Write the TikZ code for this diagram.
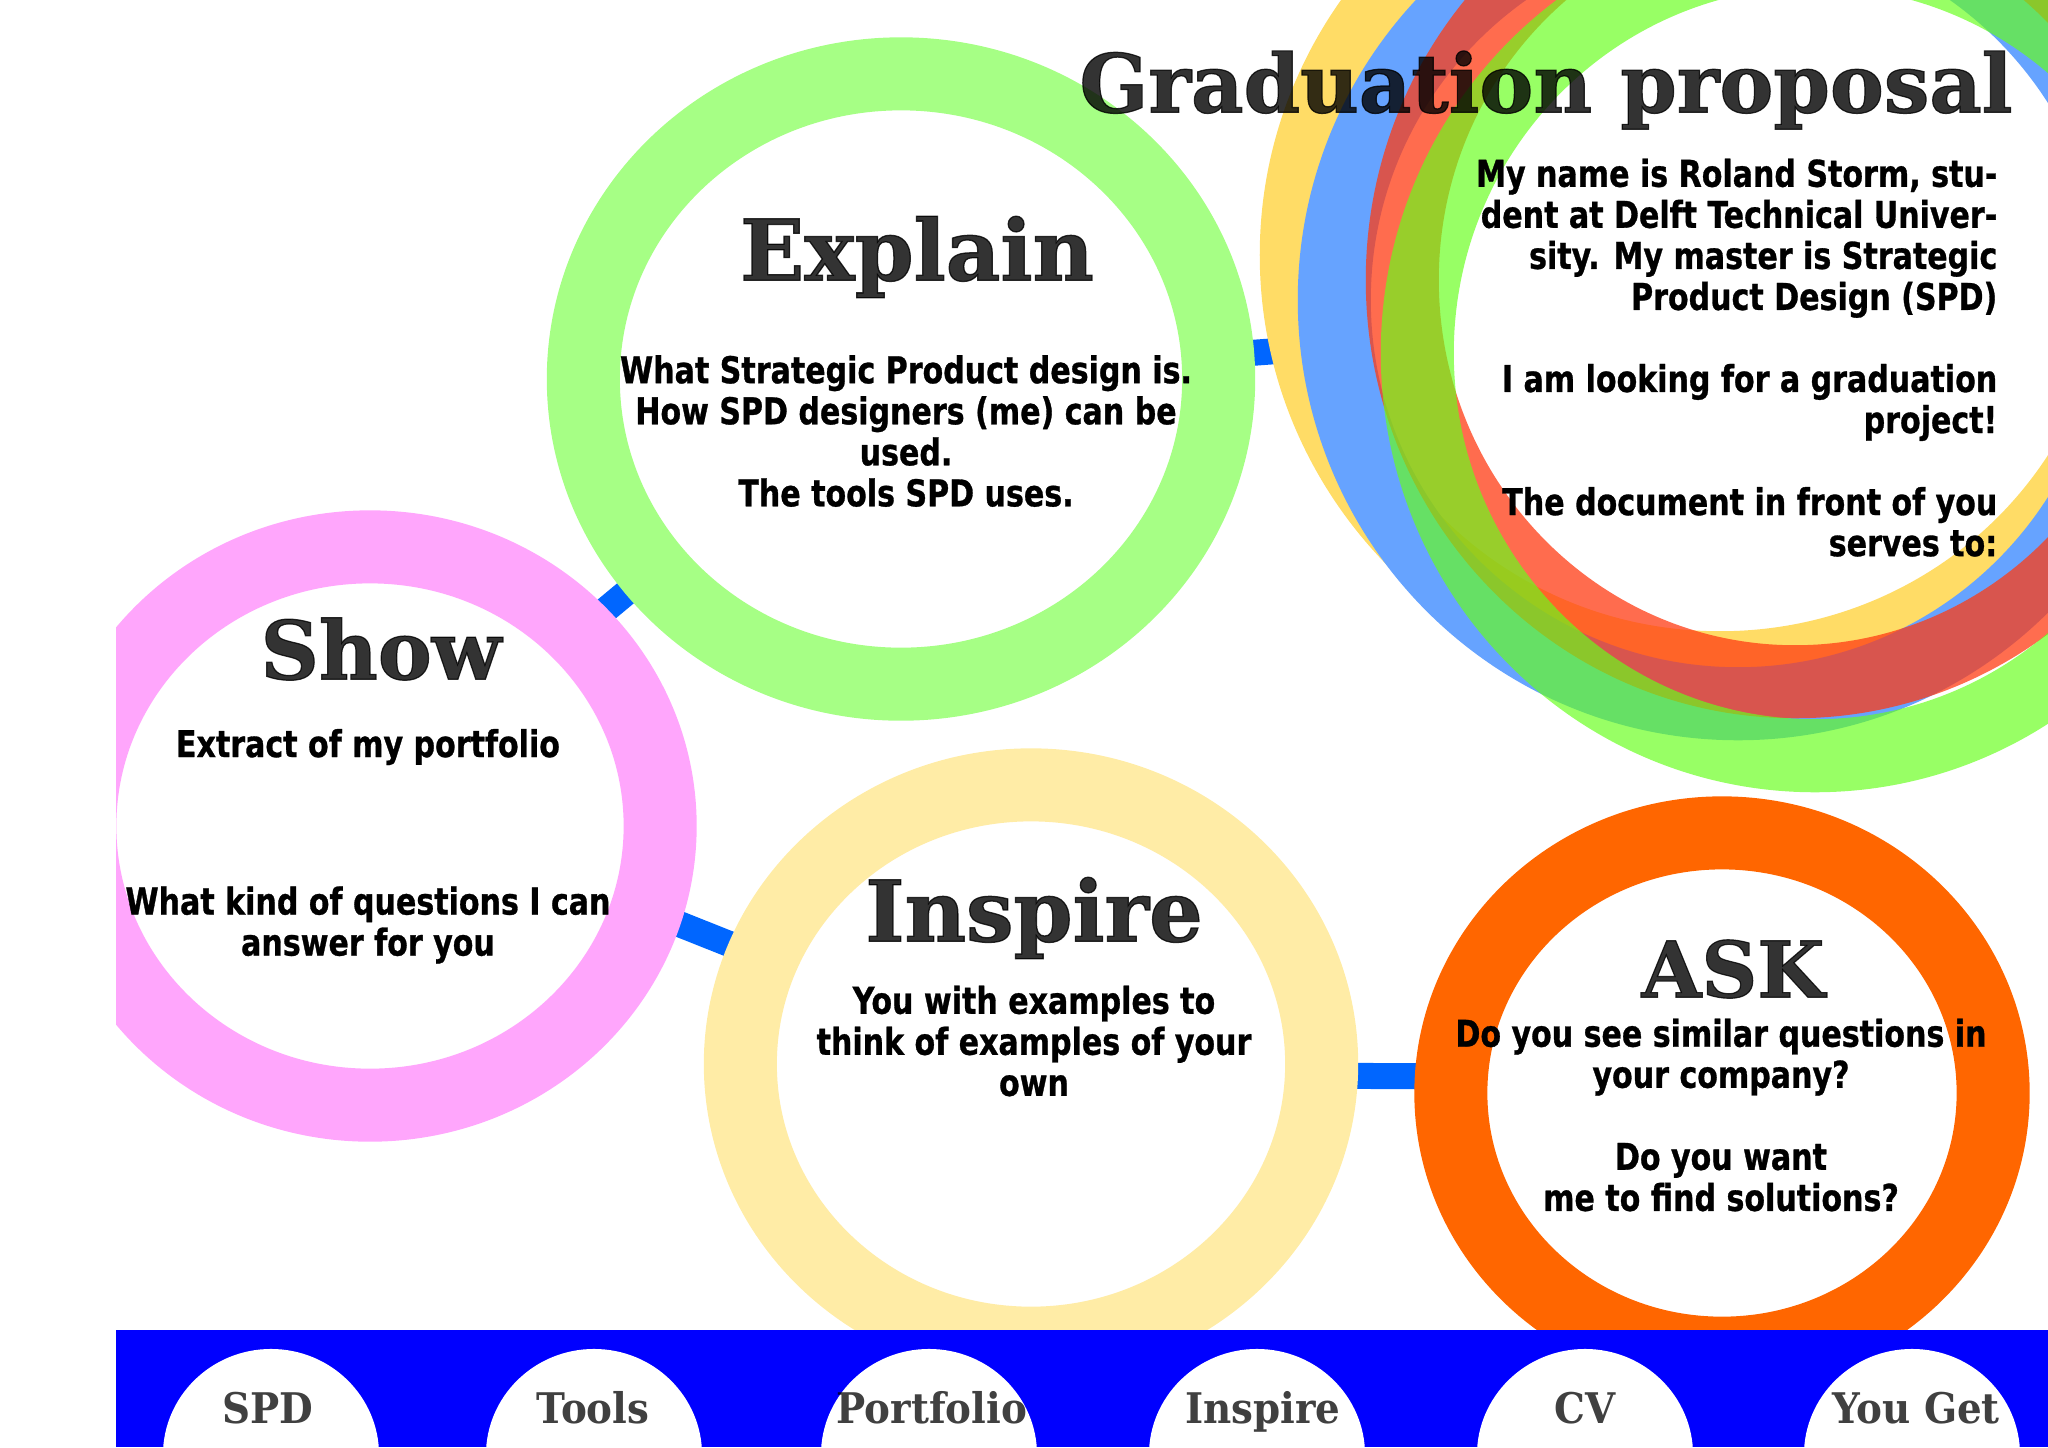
\documentclass[tikz,border=0pt]{standalone}
\usepackage{fontspec}
\setmainfont{DejaVu Sans Condensed}[BoldFont={DejaVu Sans Condensed Bold},BoldFeatures={FakeStretch=0.905,FakeBold=0.8}]
\newfontfamily\slabfont{DejaVu Serif}[BoldFont={DejaVu Serif Bold},BoldFeatures={FakeBold=1.5}]
\newfontfamily\navfont{DejaVu Serif}[BoldFont={DejaVu Serif Bold},BoldFeatures={FakeStretch=0.92}]
\usetikzlibrary{shapes.geometric,backgrounds}
\definecolor{ringgreen}{RGB}{166,255,133}
\definecolor{ringpink}{RGB}{255,166,252}
\definecolor{ringcream}{RGB}{255,236,166}
\definecolor{ringorange}{RGB}{255,102,0}
\definecolor{ringyellow}{RGB}{255,220,102}
\definecolor{ringblue}{RGB}{102,163,255}
\definecolor{ringred}{RGB}{255,60,20}
\definecolor{ringlime}{RGB}{102,255,26}
\definecolor{linkblue}{RGB}{0,102,255}
\definecolor{bandblue}{RGB}{0,0,255}
\tikzset{
  ring/.style={ellipse,draw,fill=white,line width=0.73cm,inner sep=0pt},
  linkbar/.style={linkblue,line width=0.26cm},
  bodytext/.style={align=center,font=\fontsize{10.5}{11.67}\selectfont\bfseries,inner sep=0pt},
  righttext/.style={align=right,anchor=north east,font=\fontsize{10.5}{11.67}\selectfont\bfseries,inner sep=0pt},
  headtext/.style={font=\fontsize{#1}{#1}\selectfont\slabfont\bfseries,text=black,text opacity=.8,inner sep=0pt},
  hump/.style={ellipse,fill=white,minimum width=2.16cm,minimum height=2.12cm,inner sep=0pt},
  humptext/.style={anchor=base,font=\fontsize{12}{12}\selectfont\navfont\bfseries,text=black,text opacity=.75,inner sep=0pt}
}
\begin{document}
\begin{tikzpicture}[x=0.01cm,y=0.01cm]
    \useasboundingbox (0,0) rectangle (2048,-1447);
    \begin{scope}
    \clip (116,0) rectangle (2048,-1447);
    % top right rings
    \node [ring,draw=ringyellow,minimum width=8.47cm,minimum height=8.25cm] (rgyellow) at (1720,-255) {};
    \node [ring,draw=ringblue,fill=none,minimum width=8.07cm,minimum height=8.07cm] (rgblue) at (1738,-300) {};
    \node [ring,draw=ringred,draw opacity=.75,fill=none,minimum width=7.85cm,minimum height=8.03cm] (rgred) at (1795,-280) {};
    \node [ring,draw=ringlime,draw opacity=.67,fill=none,minimum width=7.95cm,minimum height=8.05cm] (rglime) at (1815,-353) {};
    % rings
    \node [ring,draw=ringgreen,minimum width=6.35cm,minimum height=6.10cm] (explain) at (901,-379) {};
    \node [ring,draw=ringpink,minimum width=5.80cm,minimum height=5.58cm] (show) at (370,-826) {};
    \node [ring,draw=ringcream,minimum width=5.81cm,minimum height=5.58cm] (inspire) at (1031,-1064) {};
    \node [ring,draw=ringorange,minimum width=5.42cm,minimum height=5.20cm] (ask) at (1722,-1093) {};
    \begin{scope}[on background layer]
        \draw [linkbar] ([yshift=.2cm]show.center) -- ([yshift=.15cm]explain.center);
        \draw [linkbar] ([yshift=.25cm]show.center) -- (inspire.center);
        \draw [linkbar] ([yshift=-.1cm]inspire.center) -- ([yshift=.15cm]ask.center);
        \draw [linkbar] (explain.center) -- ([yshift=-.63cm]rgyellow.center);
    \end{scope}
    % band
    \fill [bandblue] (116,-1330) rectangle (2048,-1447);
    \foreach \name/\px in {a/271,b/594,c/929,d/1257,e/1585,f/1912}{
        \node [hump] (hump\name) at (\px,-1455) {};
    }
    \end{scope}
    \node [humptext] (spdlbl) at (268,-1423) {SPD};
    \node [humptext] (toolslbl) at (593,-1423) {Tools};
    \node [humptext] (portfoliolbl) at (932,-1423) {Portfolio};
    \node [humptext] (inspirenav) at (1263,-1423) {Inspire};
    \node [humptext] (cvlbl) at (1585,-1423) {CV};
    \node [humptext] (yougetlbl) at (1916,-1423) {You Get};
    % titles
    \node [headtext=23] (titlelbl) at (1546,-90) {Graduation proposal};
    \node [headtext=24] (explainlbl) at (917,-257) {Explain};
    \node [headtext=23] (showlbl) at (381,-649) {Show};
    \node [headtext=24] (inspirelbl) at (1034,-918) {Inspire};
    \node [headtext=22] (asklbl) at (1733,-969) {ASK};
    % text
    \node [bodytext] (explaintxt) at (906,-431) {What Strategic Product design is.\\How SPD designers (me) can be\\used.\\The tools SPD uses.};
    \node [bodytext] (showtxt) at (368,-747) {Extract of my portfolio};
    \node [bodytext] (showtxtb) at (368,-925) {What kind of questions I can\\answer for you};
    \node [bodytext] (inspiretxt) at (1034,-1041) {You with examples to\\think of examples of your\\own};
    \node [bodytext] (asktxt) at (1721,-1115) {Do you see similar questions in\\your company?\\[11.67pt]Do you want\\me to find solutions?};
    \node [righttext] (introtxt) at (1998,-158) {My name is Roland Storm, stu-\\dent at Delft Technical Univer-\\sity. My master is Strategic\\Product Design (SPD)\\[11.67pt]I am looking for a graduation\\project!\\[11.67pt]The document in front of you\\serves to:};
\end{tikzpicture}
\end{document}
